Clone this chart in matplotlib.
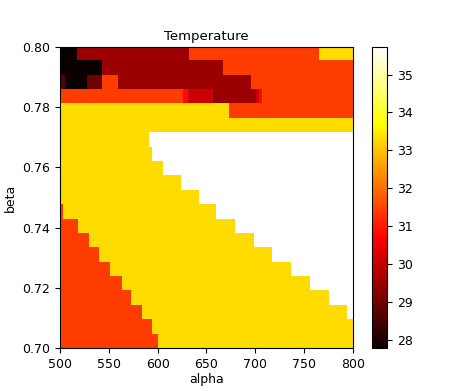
import matplotlib
matplotlib.use("Agg")
import matplotlib.pyplot as plt
import numpy as np

# temperature map over (alpha, beta)
# each row of the grid (top = beta 0.80 down to beta 0.70) is given as runs:
# (alpha where the run ends, temperature)
alpha_min, alpha_max = 500, 800
beta_min, beta_max = 0.70, 0.80

row_runs = [
    [(517, 27.8), (632, 29.5), (765, 31.4), (800, 33.3)],
    [(543, 27.8), (667, 29.5), (800, 31.4)],
    [(505, 28.7), (528, 27.8), (543, 29.0), (559, 31.4), (696, 29.5), (800, 31.4)],
    [(626, 31.4), (631, 30.8), (657, 30.1), (701, 29.5), (704, 30.1), (707, 30.8), (800, 31.4)],
    [(673, 33.3), (800, 31.4)],
    [(800, 33.3)],
    [(591, 33.3), (800, 35.73)],
    [(594, 33.3), (800, 35.73)],
    [(605, 33.3), (800, 35.73)],
    [(624, 33.3), (800, 35.73)],
    [(642, 33.3), (800, 35.73)],
    [(503, 31.4), (660, 33.3), (800, 35.73)],
    [(518, 31.4), (679, 33.3), (800, 35.73)],
    [(530, 31.4), (699, 33.3), (800, 35.73)],
    [(540, 31.4), (717, 33.3), (800, 35.73)],
    [(551, 31.4), (737, 33.3), (800, 35.73)],
    [(563, 31.4), (756, 33.3), (800, 35.73)],
    [(573, 31.4), (775, 33.3), (800, 35.73)],
    [(584, 31.4), (794, 33.3), (800, 35.73)],
    [(594, 31.4), (800, 33.3)],
    [(600, 31.4), (800, 33.3)],
]

# build the grid, one column per alpha unit
alphas = np.arange(alpha_min, alpha_max) + 0.5
temp = np.zeros((len(row_runs), len(alphas)))
for i, runs in enumerate(row_runs):
    start = alpha_min
    for end, t in runs:
        temp[i, (alphas >= start) & (alphas < end)] = t
        start = end

fig = plt.figure(figsize=(4.74, 3.91), dpi=100)
ax = fig.add_axes([0.1266, 0.11, 0.618, 0.77])
cax = fig.add_axes([0.785, 0.11, 0.0316, 0.77])

im = ax.imshow(temp, cmap='hot', aspect='auto', interpolation='nearest',
               extent=[alpha_min, alpha_max, beta_min, beta_max],
               vmin=27.78, vmax=35.73)
ax.set_xticks([500, 550, 600, 650, 700, 750, 800])
ax.set_yticks([0.70, 0.72, 0.74, 0.76, 0.78, 0.80])
ax.tick_params(labelsize=9)
ax.set_xlabel('alpha', fontsize=9, labelpad=2)
ax.set_ylabel('beta', fontsize=9, labelpad=4)
ax.set_title('Temperature', fontsize=9.5, pad=5)

cb = fig.colorbar(im, cax=cax)
cb.set_ticks([28, 29, 30, 31, 32, 33, 34, 35])
cb.ax.tick_params(labelsize=9)

fig.savefig('out.png', dpi=100)
